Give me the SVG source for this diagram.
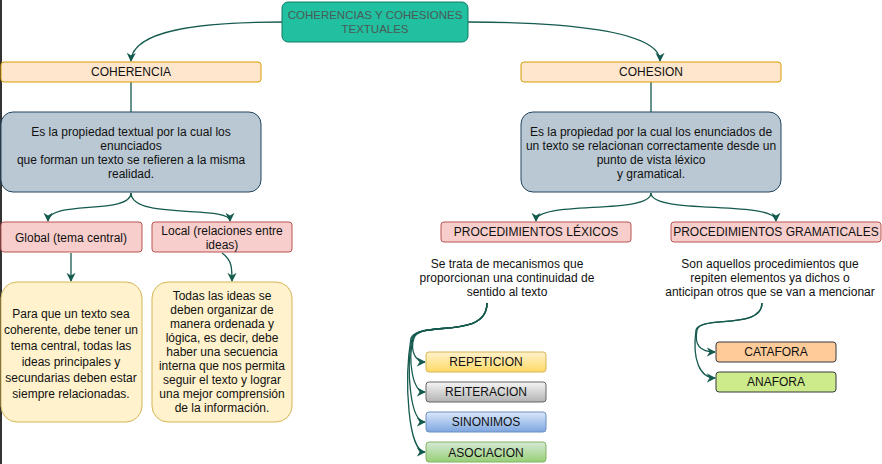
<svg xmlns="http://www.w3.org/2000/svg" width="882" height="464" viewBox="0 0 882 464">
<style>
text{font-family:"Liberation Sans",Arial,sans-serif;font-size:12px;text-anchor:middle;fill:#111}
.c{fill:none;stroke:#155a4e;stroke-width:1.3}
.or{fill:#FFE6CC;stroke:#D79B00}
.bl{fill:#BAC8D3;stroke:#23445D}
.rd{fill:#F8CECC;stroke:#B85450}
.yl{fill:#FFF2CC;stroke:#D6B656}
</style>
<defs>
<marker id="a" viewBox="0 0 10 10" refX="9" refY="5" markerWidth="7" markerHeight="7" orient="auto"><path d="M0,0L10,5L0,10L3,5z" fill="#155a4e"/></marker>
<linearGradient id="gy" x1="0" y1="0" x2="0" y2="1"><stop offset="0" stop-color="#fff2cc"/><stop offset="1" stop-color="#ffd966"/></linearGradient>
<linearGradient id="gg" x1="0" y1="0" x2="0" y2="1"><stop offset="0" stop-color="#f5f5f5"/><stop offset="1" stop-color="#b3b3b3"/></linearGradient>
<linearGradient id="gb" x1="0" y1="0" x2="0" y2="1"><stop offset="0" stop-color="#dae8fc"/><stop offset="1" stop-color="#7ea6e0"/></linearGradient>
<linearGradient id="gn" x1="0" y1="0" x2="0" y2="1"><stop offset="0" stop-color="#d5e8d4"/><stop offset="1" stop-color="#97d077"/></linearGradient>
</defs>
<rect width="882" height="464" fill="#fff"/>
<line x1="1" y1="0" x2="1" y2="464" stroke="#333" stroke-width="2"/>
<g id="connectors">
<path class="c" marker-end="url(#a)" d="M282,22 C200,22 132,30 131,61"/>
<path class="c" marker-end="url(#a)" d="M468,22 C560,22 660,30 660,61"/>
<path class="c" d="M131,82V112M651,82V112"/>
<path class="c" marker-end="url(#a)" d="M131,193 C131,215 48,200 48,221"/>
<path class="c" marker-end="url(#a)" d="M131,193 C131,220 230,205 230,221"/>
<path class="c" marker-end="url(#a)" d="M651,193 C651,215 536,200 536,221"/>
<path class="c" marker-end="url(#a)" d="M651,193 C651,215 776,200 776,221"/>
<path class="c" marker-end="url(#a)" d="M71,253V281"/>
<path class="c" marker-end="url(#a)" d="M222,253 C232,260 232,268 232,281"/>
<path class="c" marker-end="url(#a)" d="M487,303 C487,340 420,320 414,338 C410,350 415,362 425,362"/>
<path class="c" marker-end="url(#a)" d="M487,303 C487,340 420,320 413,338 C408,360 412,392 425,392"/>
<path class="c" marker-end="url(#a)" d="M487,303 C487,340 420,320 412,338 C406,370 410,422 425,422"/>
<path class="c" marker-end="url(#a)" d="M487,303 C487,340 420,320 411,338 C404,380 408,452 425,452"/>
<path class="c" marker-end="url(#a)" d="M762,303 C762,330 700,315 697,330 C694,345 700,352 715,352"/>
<path class="c" marker-end="url(#a)" d="M762,303 C762,330 700,315 696,330 C692,360 700,378 715,378"/>
</g>
<g id="title"><rect x="282" y="2" width="186" height="40" rx="6" fill="#21C0A0" stroke="#0E7A68"/><text x="375" y="19" style="fill:#4a5a56;font-size:11.5px">COHERENCIAS Y COHESIONES</text><text x="375" y="33" style="fill:#4a5a56;font-size:11.5px">TEXTUALES</text></g>
<g id="coherencia"><rect class="or" x="1" y="62" width="260" height="20" rx="3"/><text x="131" y="76">COHERENCIA</text></g>
<g id="cohesion"><rect class="or" x="521" y="62" width="260" height="20" rx="3"/><text x="651" y="76">COHESION</text></g>
<g id="defcoh"><rect class="bl" x="1" y="112" width="260" height="80" rx="12"/><text x="131" y="136">Es la propiedad textual por la cual los</text><text x="131" y="150">enunciados</text><text x="131" y="164">que forman un texto se refieren a la misma</text><text x="131" y="178">realidad.</text></g>
<g id="defcohes"><rect class="bl" x="521" y="112" width="260" height="80" rx="12"/><text x="651" y="136">Es la propiedad por la cual los enunciados de</text><text x="651" y="150">un texto se relacionan correctamente desde un</text><text x="651" y="164">punto de vista léxico</text><text x="651" y="178">y gramatical.</text></g>
<g id="global"><rect class="rd" x="1" y="222" width="141" height="30" rx="3"/><text x="71" y="242">Global (tema central)</text></g>
<g id="local"><rect class="rd" x="152" y="222" width="140" height="30" rx="3"/><text x="222" y="235">Local (relaciones entre</text><text x="222" y="249">ideas)</text></g>
<g id="yglobal"><rect class="yl" x="1" y="282" width="141" height="140" rx="16"/><text x="71" y="318">Para que un texto sea</text><text x="71" y="334">coherente, debe tener un</text><text x="71" y="350">tema central, todas las</text><text x="71" y="366">ideas principales y</text><text x="71" y="382">secundarias deben estar</text><text x="71" y="398">siempre relacionadas.</text></g>
<g id="ylocal"><rect class="yl" x="152" y="282" width="140" height="140" rx="16"/><text x="222" y="300">Todas las ideas se</text><text x="222" y="314">deben organizar de</text><text x="222" y="328">manera ordenada y</text><text x="222" y="342">lógica, es decir, debe</text><text x="222" y="356">haber una secuencia</text><text x="222" y="370">interna que nos permita</text><text x="222" y="384">seguir el texto y lograr</text><text x="222" y="398">una mejor comprensión</text><text x="222" y="412">de la información.</text></g>
<g id="lex"><rect class="rd" x="441" y="222" width="190" height="20" rx="3"/><text x="536" y="236">PROCEDIMIENTOS LÉXICOS</text></g>
<g id="gram"><rect class="rd" x="671" y="222" width="210" height="20" rx="3"/><text x="776" y="236">PROCEDIMIENTOS GRAMATICALES</text></g>
<g id="lextxt"><text x="507" y="268">Se trata de mecanismos que</text><text x="507" y="282">proporcionan una continuidad de</text><text x="507" y="296">sentido al texto</text></g>
<g id="gramtxt"><text x="770" y="268">Son aquellos procedimientos que</text><text x="770" y="282">repiten elementos ya dichos o</text><text x="770" y="296">anticipan otros que se van a mencionar</text></g>
<g id="repeticion"><rect x="426" y="352" width="120" height="20" rx="3" fill="url(#gy)" stroke="#d6b656"/><text x="486" y="366">REPETICION</text></g>
<g id="reiteracion"><rect x="426" y="382" width="120" height="20" rx="3" fill="url(#gg)" stroke="#666"/><text x="486" y="396">REITERACION</text></g>
<g id="sinonimos"><rect x="426" y="412" width="120" height="20" rx="3" fill="url(#gb)" stroke="#6c8ebf"/><text x="486" y="426">SINONIMOS</text></g>
<g id="asociacion"><rect x="426" y="442" width="120" height="20" rx="3" fill="url(#gn)" stroke="#82b366"/><text x="486" y="457">ASOCIACION</text></g>
<g id="catafora"><rect x="716" y="342" width="120" height="20" rx="3" fill="#FFCC99" stroke="#36393d"/><text x="776" y="356">CATAFORA</text></g>
<g id="anafora"><rect x="716" y="372" width="120" height="20" rx="3" fill="#CDEB8B" stroke="#36393d"/><text x="776" y="386">ANAFORA</text></g>
</svg>
